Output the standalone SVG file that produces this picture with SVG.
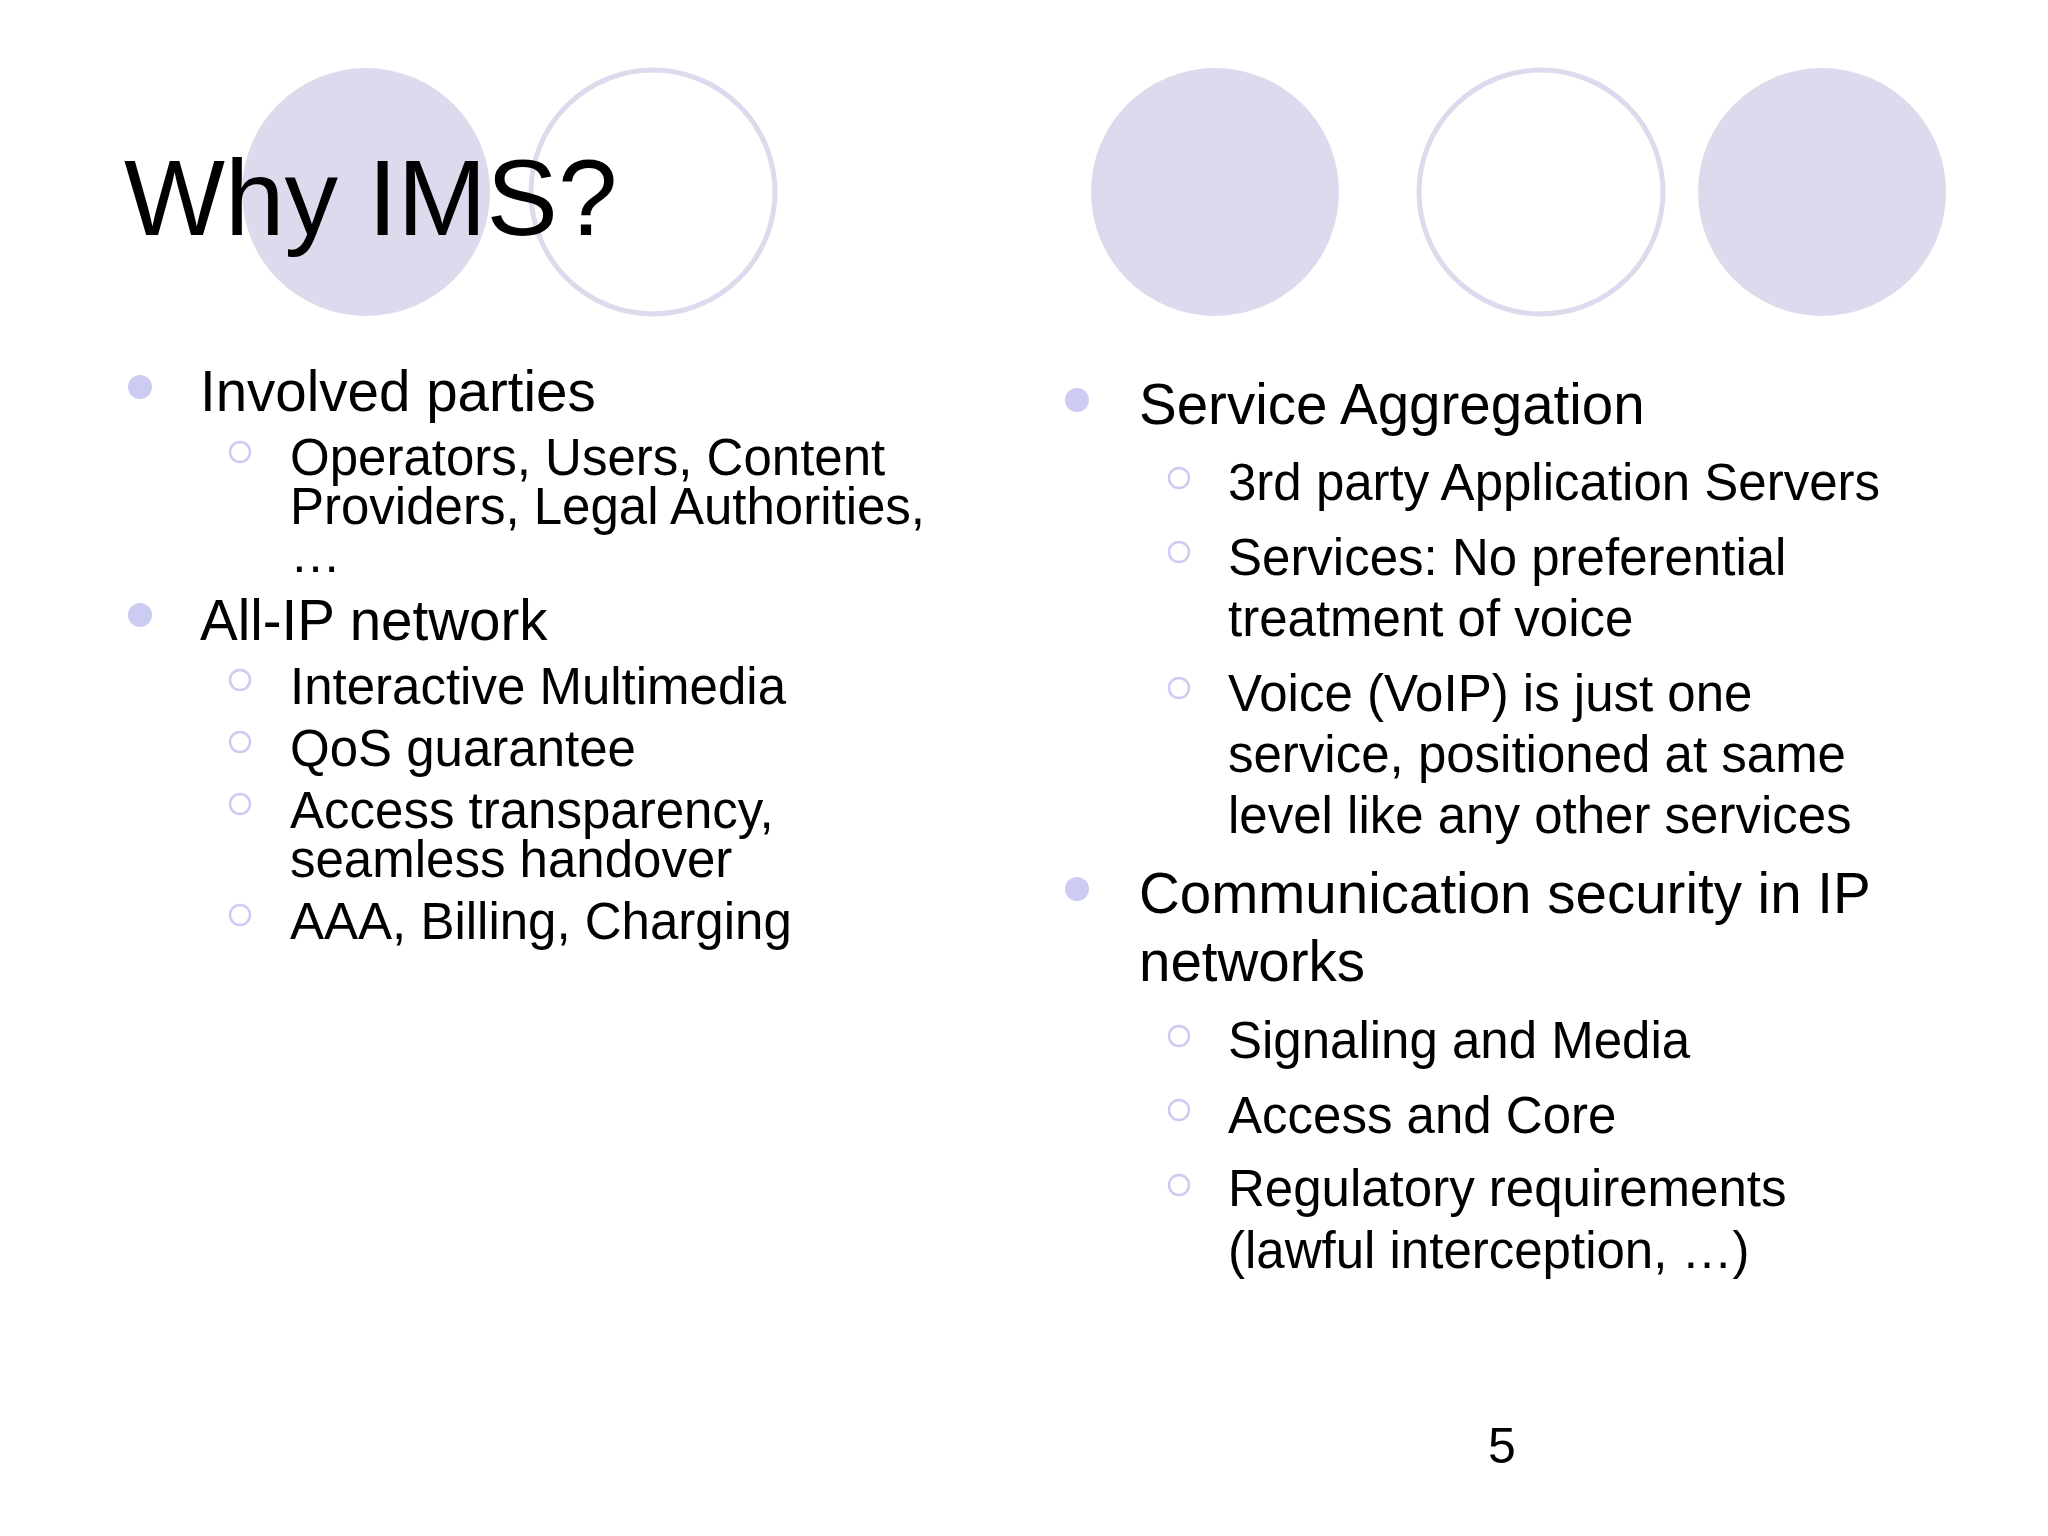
<svg xmlns="http://www.w3.org/2000/svg" width="2048" height="1536" viewBox="0 0 2048 1536">
<style>
.f{fill:#dcdaec}
.o{fill:#fff;stroke:#dcdaec;stroke-width:5}
text{font-family:"Liberation Sans",Arial,sans-serif;fill:#000}
.t{font-size:107px}
.b{font-size:56.5px}
.s{font-size:51px}
.bd{fill:#ccccf2}
.sd{fill:#fff;stroke:#ccccf2;stroke-width:2.5}
</style>
<rect width="2048" height="1536" fill="#fff"/>
<g id="decor">
<circle class="f" cx="366" cy="192" r="124"/>
<circle class="o" cx="653" cy="192" r="122"/>
<circle class="f" cx="1215" cy="192" r="124"/>
<circle class="o" cx="1541" cy="192" r="122"/>
<circle class="f" cx="1822" cy="192" r="124"/>
</g>
<text class="t" x="124" y="235">Why IMS?</text>
<g id="left">
<circle class="bd" cx="140" cy="387" r="12"/>
<text class="b" x="200" y="411">Involved parties</text>
<circle class="sd" cx="240" cy="452" r="10"/>
<text class="s" x="290" y="475">Operators, Users, Content</text>
<text class="s" x="290" y="524">Providers, Legal Authorities,</text>
<text class="s" x="290" y="572">…</text>
<circle class="bd" cx="140" cy="615" r="12"/>
<text class="b" x="200" y="640">All-IP network</text>
<circle class="sd" cx="240" cy="680" r="10"/>
<text class="s" x="290" y="704">Interactive Multimedia</text>
<circle class="sd" cx="240" cy="742" r="10"/>
<text class="s" x="290" y="766">QoS guarantee</text>
<circle class="sd" cx="240" cy="804" r="10"/>
<text class="s" x="290" y="828">Access transparency,</text>
<text class="s" x="290" y="877">seamless handover</text>
<circle class="sd" cx="240" cy="915" r="10"/>
<text class="s" x="290" y="939">AAA, Billing, Charging</text>
</g>
<g id="right">
<circle class="bd" cx="1077" cy="400" r="12"/>
<text class="b" x="1139" y="424">Service Aggregation</text>
<circle class="sd" cx="1179" cy="478" r="10"/>
<text class="s" x="1228" y="500">3rd party Application Servers</text>
<circle class="sd" cx="1179" cy="552" r="10"/>
<text class="s" x="1228" y="575">Services: No preferential</text>
<text class="s" x="1228" y="636">treatment of voice</text>
<circle class="sd" cx="1179" cy="688" r="10"/>
<text class="s" x="1228" y="711">Voice (VoIP) is just one</text>
<text class="s" x="1228" y="772">service, positioned at same</text>
<text class="s" x="1228" y="833">level like any other services</text>
<circle class="bd" cx="1077" cy="889" r="12"/>
<text class="b" x="1139" y="913">Communication security in IP</text>
<text class="b" x="1139" y="981">networks</text>
<circle class="sd" cx="1179" cy="1036" r="10"/>
<text class="s" x="1228" y="1058">Signaling and Media</text>
<circle class="sd" cx="1179" cy="1110" r="10"/>
<text class="s" x="1228" y="1133">Access and Core</text>
<circle class="sd" cx="1179" cy="1185" r="10"/>
<text class="s" x="1228" y="1206">Regulatory requirements</text>
<text class="s" x="1228" y="1268">(lawful interception, …)</text>
</g>
<text x="1502" y="1463" font-size="50" text-anchor="middle">5</text>
</svg>
